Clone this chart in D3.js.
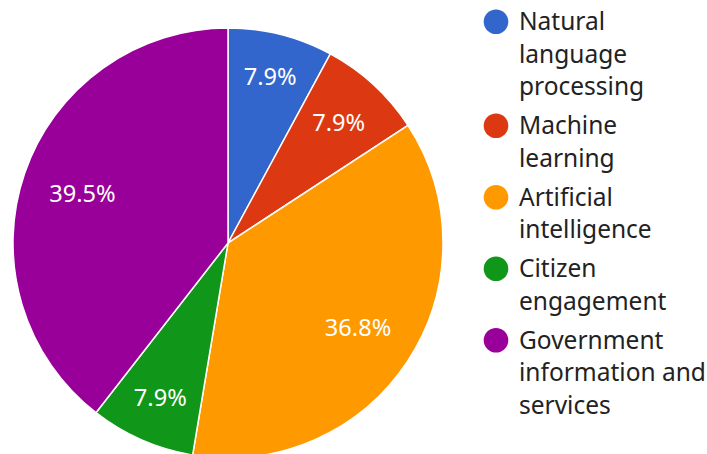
<!DOCTYPE html>
<html>
<head>
<meta charset="utf-8">
<script src="https://cdn.jsdelivr.net/npm/d3@7"></script>
<style>
  body { margin: 0; background: #fff; }
  svg { display: block; font-family: "Noto Sans", sans-serif; }
</style>
</head>
<body>
<div id="chart"></div>
<script>
var categories = ["Natural language processing", "Machine learning", "Artificial intelligence", "Citizen engagement", "Government information and services"];
var counts = [3, 3, 14, 3, 15];
var colours = ["#3366cc", "#dc3912", "#ff9900", "#109618", "#990099"];

var width = 707, height = 454;
var cx = 228, cy = 243, radius = 215;

var svg = d3.select("#chart").append("svg")
    .attr("width", width)
    .attr("height", height);

var data = categories.map(function(c, i) {
    return { name: c, value: counts[i], colour: colours[i] };
});
var total = d3.sum(counts);
var pformat = d3.format(".1%");

var pie = d3.pie().sort(null).value(function(d) { return d.value; });
var arc = d3.arc().innerRadius(0).outerRadius(radius);

var g = svg.append("g").attr("transform", "translate(" + cx + "," + cy + ")");

var slices = g.selectAll(".slice")
    .data(pie(data))
    .enter().append("g").attr("class", "slice");

slices.append("path")
    .attr("d", arc)
    .attr("fill", function(d) { return d.data.colour; })
    .attr("stroke", "#fff")
    .attr("stroke-width", 1.5);

// labels: push text box out until its far corner touches an inner circle
var labelR = radius * 0.875;
slices.append("text")
    .attr("text-anchor", "middle")
    .attr("fill", "#fff")
    .attr("font-size", "23.6px")
    .text(function(d) { return pformat(d.data.value / total); })
    .each(function(d) {
        var t = d3.select(this);
        var w = this.getComputedTextLength();
        var h = 17;
        var a = (d.startAngle + d.endAngle) / 2;
        var ux = Math.sin(a), uy = -Math.cos(a);
        var vx = (ux >= 0 ? 1 : -1) * w / 2;
        var vy = (uy >= 0 ? 1 : -1) * h / 2;
        var uv = ux * vx + uy * vy;
        var r = -uv + Math.sqrt(uv * uv - (vx * vx + vy * vy) + labelR * labelR);
        t.attr("x", r * ux).attr("y", r * uy + h / 2);
    });

// legend
var legX = 496, textX = 519, lineH = 32.5, entryGap = 39, wrapW = 190;
var legend = svg.append("g").attr("class", "legend");
var baseY = 30;

data.forEach(function(d) {
    var item = legend.append("g");
    item.append("circle")
        .attr("cx", legX)
        .attr("cy", baseY - 8.3)
        .attr("r", 12.3)
        .attr("fill", d.colour);
    var text = item.append("text")
        .attr("x", textX)
        .attr("y", baseY)
        .attr("font-size", "24.5px")
        .attr("fill", "#222");
    var words = d.name.split(/\s+/).reverse();
    var line = [], word, n = 0;
    var tspan = text.append("tspan").attr("x", textX).attr("y", baseY);
    while ((word = words.pop())) {
        line.push(word);
        tspan.text(line.join(" "));
        if (tspan.node().getComputedTextLength() > wrapW && line.length > 1) {
            line.pop();
            tspan.text(line.join(" "));
            line = [word];
            n++;
            tspan = text.append("tspan")
                .attr("x", textX)
                .attr("y", baseY + n * lineH)
                .text(word);
        }
    }
    baseY += n * lineH + entryGap;
});
</script>
</body>
</html>
